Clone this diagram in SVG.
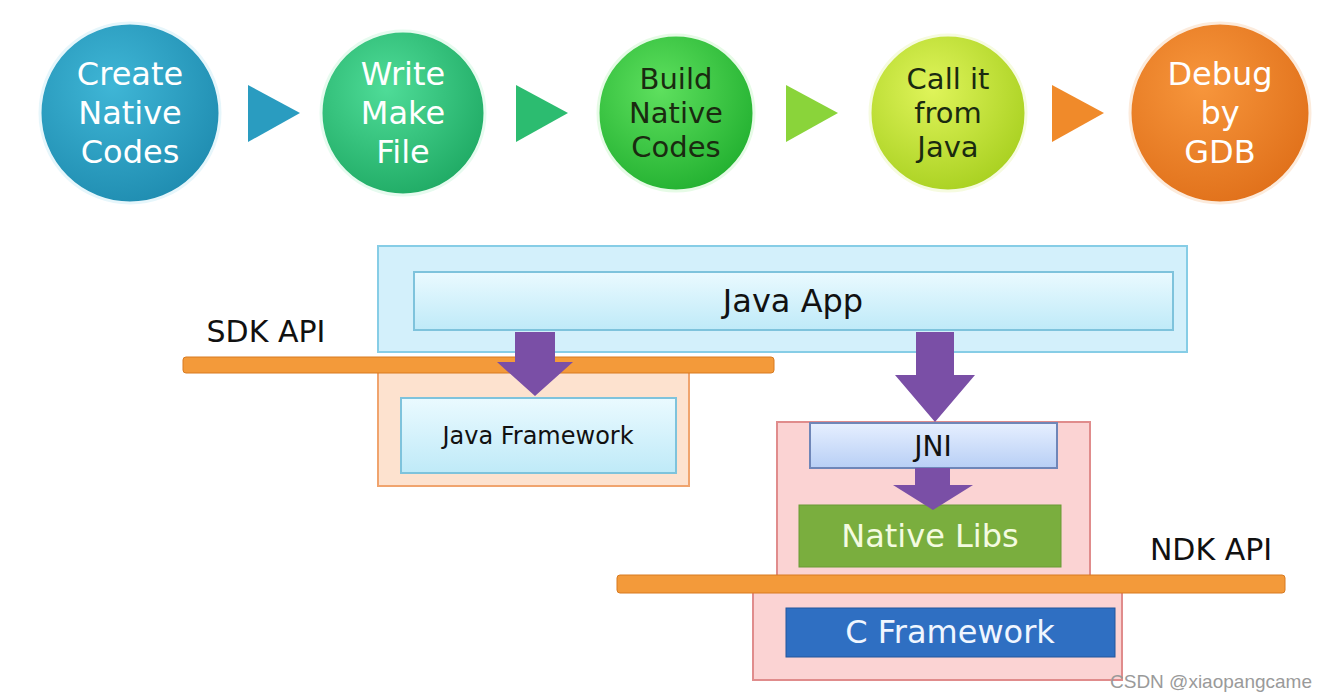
<svg xmlns="http://www.w3.org/2000/svg" width="1328" height="700" viewBox="0 0 1328 700">
<style>
.ct{font-family:Verdana,"DejaVu Sans",sans-serif;font-size:32px;fill:#fff;text-anchor:middle}
.cs{font-family:Verdana,"DejaVu Sans",sans-serif;font-size:29px;fill:#1a2a10;text-anchor:middle}
.lb{font-family:"DejaVu Sans",Verdana,sans-serif;text-anchor:middle}
.pa{fill:#7a4fa6}
.bar{fill:#f39a3a;stroke:#d87a20;stroke-width:1}
</style>
<defs>
<radialGradient id="g1" cx="0.4" cy="0.35" r="0.7"><stop offset="0" stop-color="#3fb6d6"/><stop offset="1" stop-color="#1f8cb0"/></radialGradient>
<radialGradient id="g2" cx="0.4" cy="0.35" r="0.7"><stop offset="0" stop-color="#4fdc98"/><stop offset="1" stop-color="#1faa64"/></radialGradient>
<radialGradient id="g3" cx="0.4" cy="0.35" r="0.7"><stop offset="0" stop-color="#5ee05e"/><stop offset="1" stop-color="#22b030"/></radialGradient>
<radialGradient id="g4" cx="0.4" cy="0.35" r="0.7"><stop offset="0" stop-color="#dff45a"/><stop offset="1" stop-color="#a8d020"/></radialGradient>
<radialGradient id="g5" cx="0.4" cy="0.35" r="0.7"><stop offset="0" stop-color="#f7963c"/><stop offset="1" stop-color="#e0701a"/></radialGradient>
<linearGradient id="cy" x1="0" y1="0" x2="0" y2="1"><stop offset="0" stop-color="#eafaff"/><stop offset="1" stop-color="#bfeaf8"/></linearGradient>
<linearGradient id="jn" x1="0" y1="0" x2="0" y2="1"><stop offset="0" stop-color="#e6efff"/><stop offset="1" stop-color="#b8cff5"/></linearGradient>
</defs>
<rect width="1328" height="700" fill="#fff"/>
<g id="step1"><circle cx="130" cy="113" r="90" fill="url(#g1)" stroke="#e6f6fb" stroke-width="3"/><text class="ct" x="130" y="85">Create</text><text class="ct" x="130" y="124">Native</text><text class="ct" x="130" y="163">Codes</text></g>
<g id="step2"><circle cx="403" cy="113" r="82" fill="url(#g2)" stroke="#e6fbef" stroke-width="3"/><text class="ct" x="403" y="85">Write</text><text class="ct" x="403" y="124">Make</text><text class="ct" x="403" y="163">File</text></g>
<g id="step3"><circle cx="676" cy="113" r="78" fill="url(#g3)" stroke="#e6fbe6" stroke-width="3"/><text class="cs" x="676" y="89">Build</text><text class="cs" x="676" y="123">Native</text><text class="cs" x="676" y="157">Codes</text></g>
<g id="step4"><circle cx="948" cy="113" r="78" fill="url(#g4)" stroke="#f6fbe0" stroke-width="3"/><text class="cs" x="948" y="89">Call it</text><text class="cs" x="948" y="123">from</text><text class="cs" x="948" y="157">Java</text></g>
<g id="step5"><circle cx="1220" cy="113" r="90" fill="url(#g5)" stroke="#fcebdc" stroke-width="3"/><text class="ct" x="1220" y="85">Debug</text><text class="ct" x="1220" y="124">by</text><text class="ct" x="1220" y="163">GDB</text></g>
<g id="connectors">
<polygon points="248,85 300,113 248,142" fill="#2a9cc0"/>
<polygon points="516,85 568,113 516,142" fill="#2cbc70"/>
<polygon points="786,85 838,113 786,142" fill="#8ad43a"/>
<polygon points="1052,85 1104,113 1052,142" fill="#f08a2a"/>
</g>
<g id="app"><rect x="378" y="246" width="809" height="106" fill="#d3f0fb" stroke="#86cde6" stroke-width="2"/>
<rect x="414" y="272" width="759" height="58" fill="url(#cy)" stroke="#7ec3dc" stroke-width="2"/>
<text class="lb" x="793" y="312" font-size="32" fill="#111">Java App</text></g>
<g id="sdk"><text class="lb" x="266" y="342" font-size="30" fill="#111">SDK API</text></g>
<g id="fw"><rect x="378" y="372" width="311" height="114" fill="#fde2cf" stroke="#f0a46e" stroke-width="2"/>
<rect x="401" y="398" width="275" height="75" fill="url(#cy)" stroke="#7ec3dc" stroke-width="2"/>
<text class="lb" x="538" y="444" font-size="24" fill="#111">Java Framework</text></g>
<g id="ndkbox"><rect x="777" y="422" width="313" height="160" fill="#fbd3d3" stroke="#e08c8c" stroke-width="2"/>
<rect x="753" y="590" width="369" height="90" fill="#fbd3d3" stroke="#e08c8c" stroke-width="2"/></g>
<g id="sdkbar"><rect class="bar" x="183" y="357" width="591" height="16" rx="3"/></g>
<g id="jni"><rect x="810" y="423" width="247" height="45" fill="url(#jn)" stroke="#6f86b8" stroke-width="2"/>
<text class="lb" x="933" y="456" font-size="28" fill="#111">JNI</text></g>
<g id="nlibs"><rect x="799" y="505" width="262" height="62" fill="#7aae3e" stroke="#6a9a34"/>
<text class="lb" x="930" y="547" font-size="32" fill="#f4fbe0">Native Libs</text></g>
<g id="ndkbar"><rect class="bar" x="617" y="575" width="668" height="18" rx="3"/></g>
<g id="ndk"><text class="lb" x="1211" y="560" font-size="30" fill="#111">NDK API</text></g>
<g id="cfw"><rect x="786" y="608" width="329" height="49" fill="#2f6fc2" stroke="#23579c"/>
<text class="lb" x="950" y="643" font-size="32" fill="#f0f6ff">C Framework</text></g>
<g id="arrows">
<polygon class="pa" points="515,332 555,332 555,362 573,362 535,396 497,362 515,362"/>
<polygon class="pa" points="916,332 954,332 954,375 975,375 935,422 895,375 916,375"/>
<polygon class="pa" points="915,468 950,468 950,485 973,485 933,510 893,485 915,485"/>
</g>
<text x="1312" y="688" font-family="'Liberation Sans',sans-serif" font-size="19" fill="#9a9a9a" text-anchor="end">CSDN @xiaopangcame</text>
</svg>
